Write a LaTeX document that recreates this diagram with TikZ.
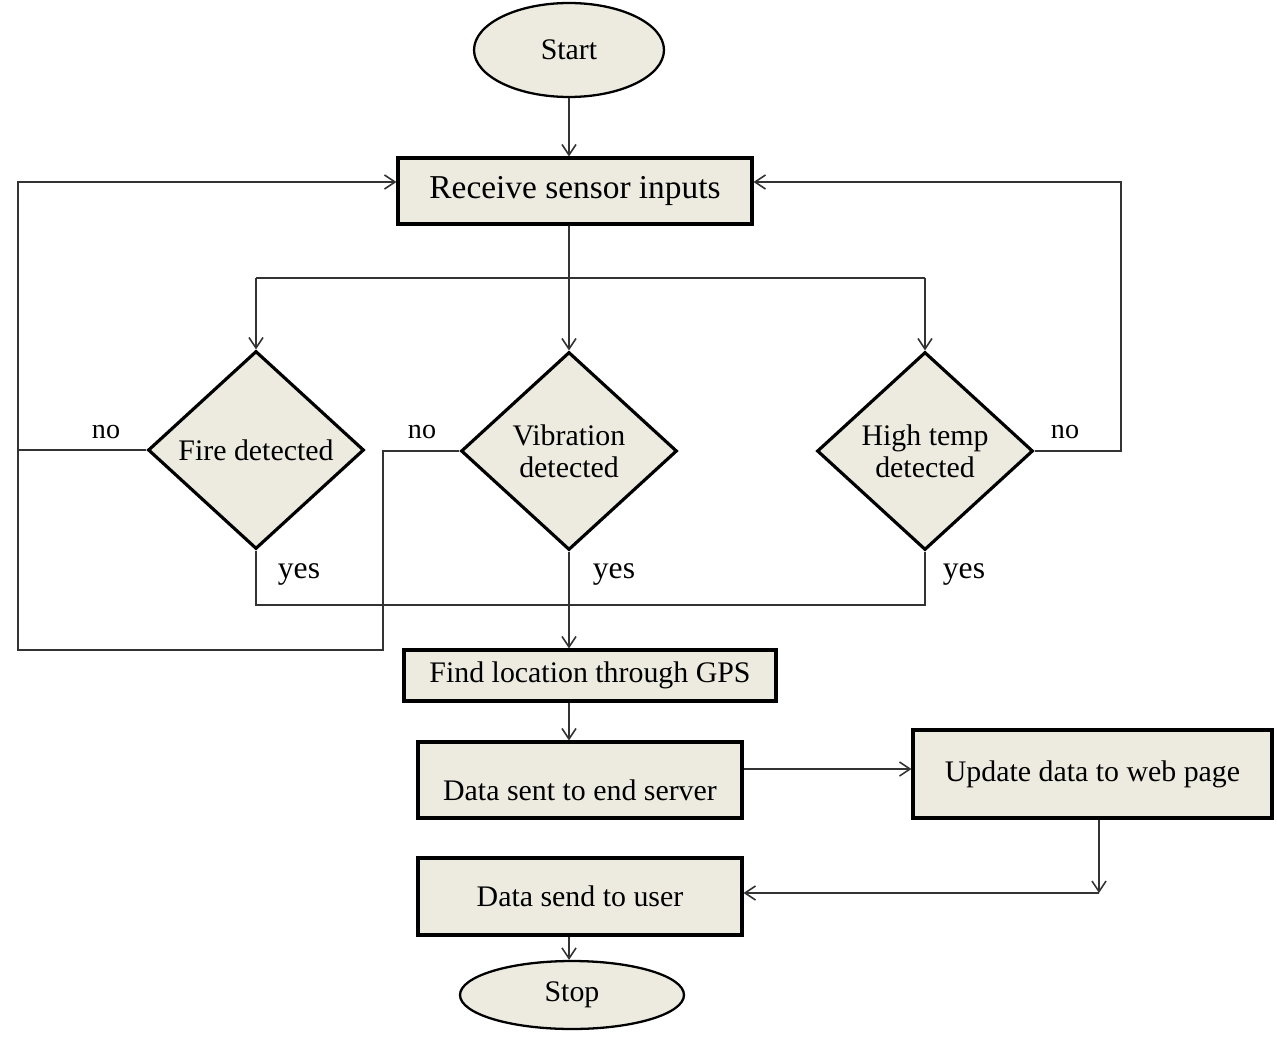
\documentclass[tikz,border=0pt]{standalone}
\usepackage{fontspec}
\setmainfont{Liberation Serif}
\usetikzlibrary{shapes.geometric,arrows.meta,calc}
\definecolor{boxfill}{RGB}{237,235,224}
\tikzset{
  arr/.style={-{Straight Barb[length=6pt,width=8pt]}},
  conn/.style={line width=0.9pt,black!80},
  stepbox/.style={draw,line width=1.8pt,fill=boxfill,rectangle,inner sep=0pt,font=\fontsize{17}{20}\selectfont},
  termnode/.style={draw,line width=1.3pt,fill=boxfill,ellipse,inner sep=0pt,font=\fontsize{17}{20}\selectfont},
  decide/.style={draw,line width=1.8pt,fill=boxfill,diamond,inner sep=0pt,minimum width=4.32cm,minimum height=3.96cm,align=center,font=\fontsize{17}{20}\selectfont},
  lab/.style={font=\fontsize{16}{18}\selectfont,inner sep=0pt},
  ylab/.style={font=\fontsize{18}{20}\selectfont,inner sep=0pt}
}
\begin{document}
\begin{tikzpicture}[x=0.02cm,y=-0.02cm]
\useasboundingbox[fill=white] (0,0) rectangle (1277,1040);
% nodes
\node[termnode,minimum width=3.8cm,minimum height=1.88cm] (start) at (569,50) {Start};
\node[stepbox,minimum width=7.08cm,minimum height=1.32cm,font=\fontsize{19}{22}\selectfont] (receive) at (575,191) {Receive sensor inputs};
\node[decide] (fire) at (256,450) {Fire detected};
\node[decide] (vib) at (569,451) {Vibration\\[-2pt]detected};
\node[decide] (ht) at (925,451) {High temp\\[-2pt]detected};
\node[stepbox,minimum width=7.44cm,minimum height=1.02cm] (gps) at (590,675.5) {Find location through GPS};
\node[stepbox,minimum width=6.48cm,minimum height=1.52cm] (server) at (580,780) {\raisebox{-0.4cm}[0pt][0pt]{Data sent to end server}};
\node[stepbox,minimum width=7.18cm,minimum height=1.76cm] (update) at (1092.5,774) {Update data to web page};
\node[stepbox,minimum width=6.48cm,minimum height=1.54cm] (user) at (580,896.5) {Data send to user};
\node[termnode,minimum width=4.48cm,minimum height=1.36cm] (stop) at (572,995) {Stop};
% labels
\node[lab] (no1) at (106,432) {no};
\node[lab] (no2) at (422,432) {no};
\node[lab] (no3) at (1065,432) {no};
\node[ylab] (yes1) at (299,574) {yes};
\node[ylab] (yes2) at (614,574) {yes};
\node[ylab] (yes3) at (964,574) {yes};
% helper coordinates
\coordinate (j) at (569,278);
\coordinate (lb) at (18,650);
\coordinate (vb) at (383,650);
\coordinate (rr) at (1121,447);
\coordinate (yb) at (256,605);
\coordinate (uc) at (1099,893);
% connectors
\draw[conn,arr] (start.south) -- (start.south |- receive.north);
\draw[conn] (j |- receive.south) -- (j);
\draw[conn] (fire.north |- j) -- (ht.north |- j);
\draw[conn,arr] (fire.north |- j) -- (fire.north);
\draw[conn,arr] (j) -- (vib.north);
\draw[conn,arr] (ht.north |- j) -- (ht.north);
\draw[conn] (fire.west) -- (fire.west -| lb);
\draw[conn,arr] (vib.west) -| (vb) -- (lb) |- ([yshift=0.18cm]receive.west);
\draw[conn,arr] (ht.east) -| (rr) |- ([yshift=0.18cm]receive.east);
\draw[conn] (fire.south) -- (yb) -- (yb -| ht.south) -- (ht.south);
\draw[conn,arr] (vib.south) -- (vib.south |- gps.north);
\draw[conn,arr] (vib.south |- gps.south) -- (vib.south |- server.north);
\draw[conn,arr] ([yshift=0.22cm]server.east) -- ([yshift=0.22cm]server.east -| update.west);
\draw[conn,arr] (update.south -| uc) -- (uc);
\draw[conn,arr] (uc) -- (uc -| user.east);
\draw[conn,arr] (vib.south |- user.south) -- (vib.south |- stop.north);
\end{tikzpicture}
\end{document}
